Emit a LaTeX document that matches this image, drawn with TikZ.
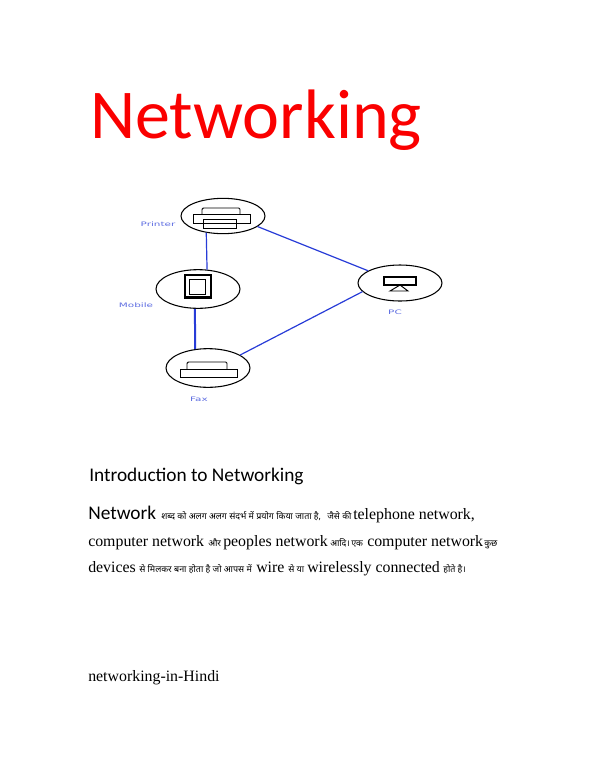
\documentclass[tikz,border=0pt]{standalone}
\usepackage{fontspec}
\setmainfont{Liberation Serif}
\newfontfamily\hindifont[Script=Devanagari]{Noto Sans}
\newfontfamily\caliberfont{Carlito}
\newfontfamily\labelfont[FakeStretch=1.7]{DejaVu Sans}
\usepackage{xcolor}
\usetikzlibrary{shapes.geometric}
\definecolor{linkblue}{RGB}{40,60,215}
\definecolor{labelblue}{RGB}{95,110,225}
\definecolor{titlered}{RGB}{250,0,0}
\tikzset{
  device/.style={draw,ellipse,line width=0.8,minimum width=63pt,minimum height=28pt,inner sep=0pt},
  icon/.style={draw,line width=0.7},
  link/.style={draw=linkblue,line width=0.9},
  devlabel/.style={text=labelblue,font=\labelfont\fontsize{4.6}{5}\selectfont,inner sep=0pt},
  eng/.style={anchor=base west,inner sep=0pt,font=\fontsize{11.9}{14}\selectfont},
  hin/.style={anchor=base west,inner sep=0pt,font=\hindifont\fontsize{6.7}{8}\selectfont},
}
\begin{document}
\begin{tikzpicture}[x=0.75pt,y=-0.75pt]
  \useasboundingbox (0,0) rectangle (600,776);

  \node[anchor=base west,inner sep=0pt,text=titlered,font=\caliberfont\fontsize{52.5}{58}\selectfont] (title) at (90,138) {Networking};

  % devices
  \node[device,minimum height=26.5pt] (printer) at (223,216) {};
  \node[device,minimum height=29pt] (mobile) at (198,289) {};
  \node[device,minimum height=27pt] (pc) at (400,283) {};
  \node[device,minimum height=29pt] (fax) at (208,368) {};

  \draw[link] (printer.225) -- (mobile.65);
  \draw[link,line width=1.5] (mobile.261) -- (fax.124);
  \draw[link] (printer.-17) -- (pc.159);
  \draw[link] (pc.193) -- (fax.22);

  % printer icon
  \draw[icon,rounded corners=1] (202,214) -- (202,208) -- (240,208) -- (240,214);
  \draw[icon] (193,214) rectangle (250,223);
  \draw[icon,fill=white] (203,219) rectangle (236,228);
  \draw[icon] (203,223) -- (236,223);
  % mobile icon
  \draw[icon,line width=0.9] (185,275) rectangle (211,298);
  \draw[icon] (189,279) rectangle (205,294);
  \draw[icon] (185,296) -- (211,296);
  % pc icon
  \draw[icon,line width=0.9] (384,277) rectangle (416,285);
  \draw[icon] (390,291) -- (400,285) -- (408,291) -- cycle;
  % fax icon
  \draw[icon,rounded corners=1] (187,369) -- (187,362) -- (227,362) -- (227,369);
  \draw[icon] (180,369) rectangle (237,377);

  \node[devlabel] (printerlabel) at (158,224) {Printer};
  \node[devlabel] (mobilelabel) at (136,305) {Mobile};
  \node[devlabel] (pclabel) at (395,312) {PC};
  \node[devlabel] (faxlabel) at (199,399) {Fax};

  \node[anchor=base west,inner sep=0pt,font=\caliberfont\fontsize{14.5}{16}\selectfont] (intro) at (89,481) {Introduction to Networking};

  % first line
  \node[anchor=base west,inner sep=0pt,font=\caliberfont\fontsize{14.5}{16}\selectfont] (netword) at (88,519) {Network};
  \node[hin] (hina) at (161,519) {शब्द को अलग अलग संदर्भ में प्रयोग किया जाता है,};
  \node[hin] (hinb) at (327,519) {जैसे की};
  \node[eng] (tele) at (353,519) {telephone network,};
  % second line
  \node[eng] (compa) at (88,546) {computer network};
  \node[hin] (hinc) at (208,546) {और};
  \node[eng] (people) at (223,546) {peoples network};
  \node[hin] (hind) at (330,546) {आदि।};
  \node[hin] (hinek) at (351,546) {एक};
  \node[eng] (compb) at (367,546) {computer network};
  \node[hin] (hine) at (484,546) {कुछ};
  % third line
  \node[eng] (dev) at (88,572) {devices};
  \node[hin] (hinf) at (139,572) {से मिलकर बना होता है जो आपस में};
  \node[eng] (wire) at (256,572) {wire};
  \node[hin] (hing) at (288,572) {से या};
  \node[eng] (wless) at (307,572) {wirelessly connected};
  \node[hin] (hinh) at (443,572) {होते है।};

  \node[eng] (foot) at (88,681) {networking-in-Hindi};
\end{tikzpicture}
\end{document}
